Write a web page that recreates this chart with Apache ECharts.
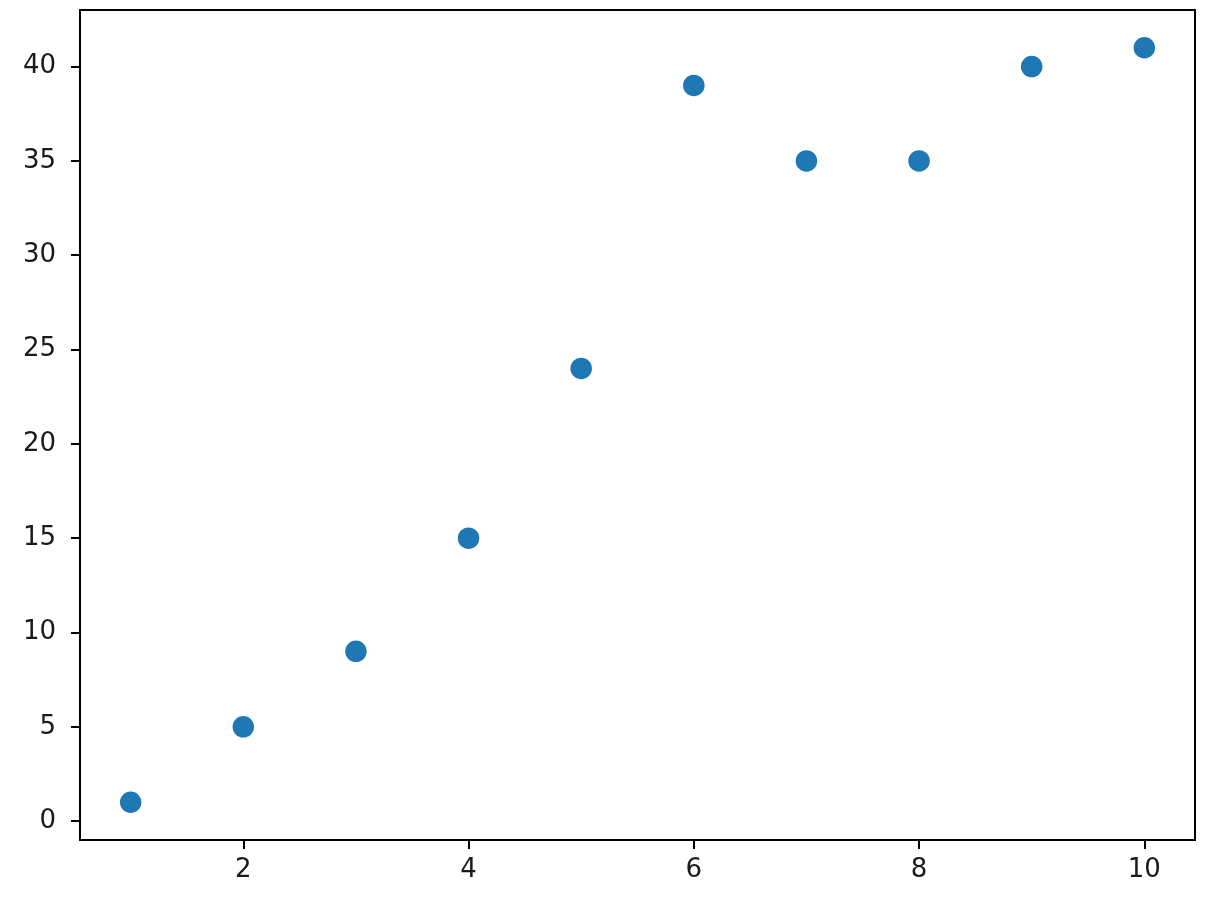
<!DOCTYPE html>
<html>
<head>
<meta charset="utf-8">
<script src="https://cdn.jsdelivr.net/npm/echarts@6/dist/echarts.min.js"></script>
<style>html,body{margin:0;padding:0;background:#fff}#c{width:1215px;height:918px}</style>
</head>
<body>
<div id="c"></div>
<script>
const xValues = [1, 2, 3, 4, 5, 6, 7, 8, 9, 10];
const yValues = [1, 5, 9, 15, 24, 39, 35, 35, 40, 41];
const xTicks = [2, 4, 6, 8, 10];
const yTicks = [0, 5, 10, 15, 20, 25, 30, 35, 40];

const chart = echarts.init(document.getElementById('c'));
const tickStyle = { show: true, inside: false, length: 9, lineStyle: { color: '#000', width: 2 } };
const labelStyle = { color: '#1a1a1a', fontSize: 26, fontFamily: 'DejaVu Sans' };
chart.setOption({
  animation: false,
  grid: { left: 80, right: 20, top: 10, bottom: 78, show: true, borderColor: '#000', borderWidth: 2, backgroundColor: 'transparent' },
  xAxis: {
    type: 'value', min: 0.55, max: 10.45,
    axisLine: { show: true, onZero: false, lineStyle: { color: '#000', width: 2 } },
    axisTick: Object.assign({}, tickStyle, { customValues: xTicks }),
    axisLabel: Object.assign({}, labelStyle, { customValues: xTicks, margin: 17 }),
    splitLine: { show: false }
  },
  yAxis: {
    type: 'value', min: -1, max: 43,
    axisLine: { show: true, onZero: false, lineStyle: { color: '#000', width: 2 } },
    axisTick: Object.assign({}, tickStyle, { customValues: yTicks }),
    axisLabel: Object.assign({}, labelStyle, { customValues: yTicks, margin: 24 }),
    splitLine: { show: false }
  },
  series: [{
    type: 'scatter',
    data: xValues.map((x, i) => [x, yValues[i]]),
    symbolSize: 23,
    itemStyle: { color: '#1f77b4', borderColor: '#fff', borderWidth: 1.5, opacity: 1 }
  }]
});
</script>
</body>
</html>
